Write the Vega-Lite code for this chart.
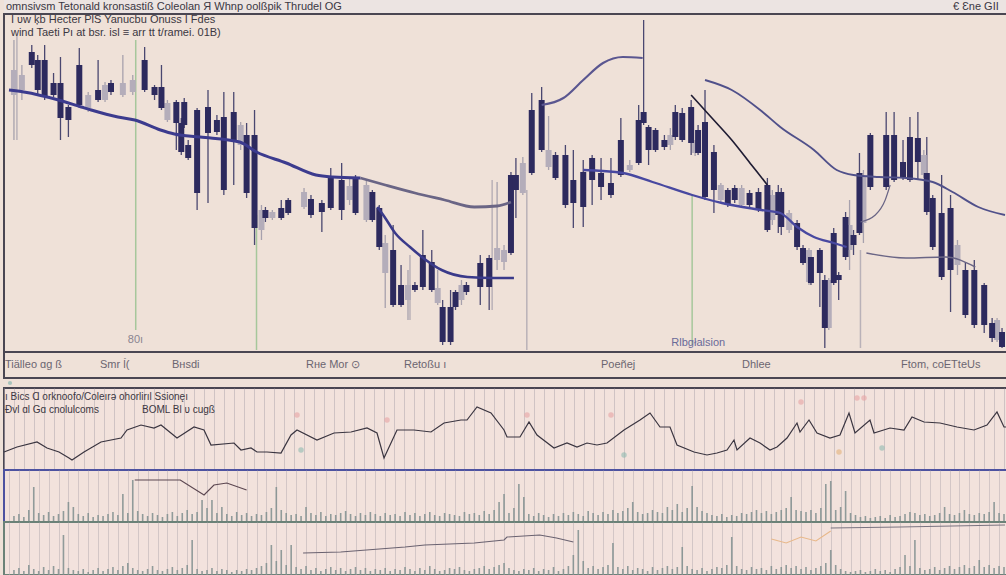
{
"$schema":"https://vega.github.io/schema/vega-lite/v6.json",
"background":"#efe1d8",
"padding":0,
"spacing":0,
"bounds":"flush",
"config":{"view":{"stroke":null},"font":"Liberation Sans","axis":{"minExtent":0,"maxExtent":0}},
"datasets":{
"header":[
{"t":0.2,"text":"omnsivsm  Tetonald kronsastiß Coleolan Я Whnp oolßpik Thrudel OG"},
{"t":94.9,"text":"€ Ɛne GII"}
],
"candles":[
{"t":0.5,"o":128.5,"c":141,"h":156,"l":106,"k":"grey"},
{"t":1.3,"o":131,"c":138.5,"h":143.5,"l":126,"k":"grey"},
{"t":8.0,"o":122,"c":128.5,"h":130,"l":120,"k":"grey"},
{"t":9.7,"o":126,"c":133.5,"h":135,"l":125,"k":"grey"},
{"t":11.5,"o":128.5,"c":134.5,"h":148.5,"l":127.5,"k":"grey"},
{"t":12.5,"o":130,"c":136,"h":138.5,"l":128.5,"k":"grey"},
{"t":16.0,"o":116,"c":124.5,"h":126,"l":115,"k":"grey"},
{"t":23.4,"o":103.5,"c":113.5,"h":115,"l":101,"k":"grey"},
{"t":25.5,"o":61,"c":71,"h":73.5,"l":56,"k":"grey"},
{"t":26.6,"o":67,"c":70,"h":71,"l":66,"k":"grey"},
{"t":29.8,"o":72.5,"c":80,"h":82,"l":71.5,"k":"grey"},
{"t":34.4,"o":76,"c":83,"h":87,"l":73.5,"k":"grey"},
{"t":36.1,"o":66,"c":83.5,"h":86,"l":65,"k":"grey"},
{"t":38.0,"o":39.5,"c":54.5,"h":58.5,"l":22,"k":"grey"},
{"t":40.3,"o":26,"c":33.5,"h":41,"l":16,"k":"grey"},
{"t":43.3,"o":24.5,"c":32,"h":41,"l":23.5,"k":"grey"},
{"t":45.7,"o":26,"c":33.5,"h":36,"l":23.5,"k":"grey"},
{"t":49.3,"o":46,"c":52,"h":85,"l":41,"k":"grey"},
{"t":50.0,"o":45,"c":51,"h":53.5,"l":41,"k":"grey"},
{"t":51.9,"o":79.5,"c":94.5,"h":97.5,"l":78.5,"k":"grey"},
{"t":54.5,"o":92.5,"c":101,"h":118,"l":91,"k":"grey"},
{"t":62.7,"o":91,"c":93.5,"h":96,"l":90,"k":"grey"},
{"t":66.8,"o":103.5,"c":108.5,"h":112,"l":101,"k":"grey"},
{"t":69.3,"o":99.5,"c":104.5,"h":106,"l":98,"k":"grey"},
{"t":71.9,"o":76,"c":83.5,"h":84.5,"l":74.5,"k":"grey"},
{"t":74.0,"o":73.5,"c":82,"h":83.5,"l":72.5,"k":"grey"},
{"t":77.1,"o":66,"c":78.5,"h":81,"l":63.5,"k":"grey"},
{"t":78.8,"o":61,"c":69.5,"h":71,"l":59.5,"k":"grey"},
{"t":80.8,"o":35,"c":51,"h":52,"l":33.5,"k":"grey"},
{"t":82.8,"o":12,"c":36,"h":37,"l":11,"k":"grey"},
{"t":84.9,"o":51,"c":63.5,"h":76,"l":41,"k":"grey"},
{"t":86.3,"o":64.5,"c":87.5,"h":91,"l":54.5,"k":"grey"},
{"t":92.4,"o":88.5,"c":98.5,"h":101,"l":87,"k":"grey"},
{"t":95.8,"o":43.5,"c":53.5,"h":56,"l":38.5,"k":"grey"},
{"t":99.8,"o":6,"c":16,"h":17,"l":5,"k":"grey"},
{"t":2.3,"o":143.5,"c":150,"h":153.5,"l":142,"k":"dark"},
{"t":2.9,"o":131,"c":146,"h":148.5,"l":128.5,"k":"dark"},
{"t":3.6,"o":127.5,"c":146,"h":153.5,"l":126,"k":"dark"},
{"t":4.5,"o":128.5,"c":134.5,"h":139.5,"l":127.5,"k":"dark"},
{"t":5.2,"o":117,"c":134.5,"h":147.5,"l":106,"k":"dark"},
{"t":6.0,"o":116,"c":122.5,"h":123.5,"l":107.5,"k":"dark"},
{"t":7.1,"o":123.5,"c":143.5,"h":152,"l":122,"k":"dark"},
{"t":9.0,"o":126,"c":131,"h":146,"l":125,"k":"dark"},
{"t":10.3,"o":130,"c":134.5,"h":136,"l":128.5,"k":"dark"},
{"t":13.7,"o":131,"c":146,"h":152.5,"l":130,"k":"dark"},
{"t":14.7,"o":128.5,"c":132.5,"h":133.5,"l":126,"k":"dark"},
{"t":15.4,"o":122,"c":132.5,"h":143.5,"l":121,"k":"dark"},
{"t":16.9,"o":114.5,"c":125,"h":126,"l":101,"k":"dark"},
{"t":17.4,"o":100,"c":114.5,"h":117,"l":98.5,"k":"dark"},
{"t":17.7,"o":113.5,"c":125,"h":127,"l":112,"k":"dark"},
{"t":18.1,"o":97,"c":103.5,"h":106,"l":96,"k":"dark"},
{"t":19.0,"o":79.5,"c":121,"h":122,"l":71,"k":"dark"},
{"t":20.1,"o":109.5,"c":122.5,"h":131,"l":74.5,"k":"dark"},
{"t":21.0,"o":110,"c":116,"h":118.5,"l":108.5,"k":"dark"},
{"t":21.7,"o":81,"c":117.5,"h":130,"l":78.5,"k":"dark"},
{"t":22.7,"o":106,"c":120,"h":130,"l":83.5,"k":"dark"},
{"t":24.0,"o":79.5,"c":108.5,"h":114.5,"l":77,"k":"dark"},
{"t":24.8,"o":62,"c":108.5,"h":121,"l":53.5,"k":"dark"},
{"t":25.9,"o":67,"c":71,"h":72.5,"l":65,"k":"dark"},
{"t":27.5,"o":67,"c":72,"h":76,"l":66,"k":"dark"},
{"t":28.2,"o":69.5,"c":76,"h":77,"l":68.5,"k":"dark"},
{"t":30.5,"o":68.5,"c":76.5,"h":78.5,"l":67,"k":"dark"},
{"t":31.6,"o":70,"c":74.5,"h":76,"l":60,"k":"dark"},
{"t":32.5,"o":72,"c":87.5,"h":92,"l":71,"k":"dark"},
{"t":33.6,"o":71,"c":86,"h":94.5,"l":66,"k":"dark"},
{"t":35.0,"o":69.5,"c":87,"h":88.5,"l":68.5,"k":"dark"},
{"t":36.7,"o":66,"c":80,"h":81,"l":65,"k":"dark"},
{"t":37.4,"o":52.5,"c":72,"h":73.5,"l":51,"k":"dark"},
{"t":38.8,"o":23.5,"c":51,"h":63.5,"l":22.5,"k":"dark"},
{"t":39.6,"o":23.5,"c":33.5,"h":43.5,"l":22.5,"k":"dark"},
{"t":41.0,"o":31,"c":33.5,"h":35,"l":30,"k":"dark"},
{"t":41.8,"o":32.5,"c":48.5,"h":61,"l":31,"k":"dark"},
{"t":42.7,"o":31,"c":45,"h":51,"l":30,"k":"dark"},
{"t":43.8,"o":5,"c":22.5,"h":26,"l":3.5,"k":"dark"},
{"t":44.6,"o":5,"c":22.5,"h":31,"l":3.5,"k":"dark"},
{"t":45.1,"o":22.5,"c":30,"h":31,"l":21,"k":"dark"},
{"t":46.2,"o":30,"c":33.5,"h":35,"l":28.5,"k":"dark"},
{"t":47.6,"o":32.5,"c":44.5,"h":48.5,"l":23.5,"k":"dark"},
{"t":48.5,"o":32.5,"c":47,"h":48.5,"l":21,"k":"dark"},
{"t":50.7,"o":49.5,"c":88.5,"h":90,"l":48.5,"k":"dark"},
{"t":51.2,"o":81,"c":88.5,"h":97,"l":67,"k":"dark"},
{"t":52.8,"o":89.5,"c":121,"h":129.5,"l":88.5,"k":"dark"},
{"t":53.8,"o":101,"c":126,"h":132.5,"l":100,"k":"dark"},
{"t":55.2,"o":87,"c":98.5,"h":100,"l":86,"k":"dark"},
{"t":56.2,"o":73.5,"c":98.5,"h":103.5,"l":72,"k":"dark"},
{"t":57.0,"o":74.5,"c":86,"h":101,"l":62,"k":"dark"},
{"t":58.0,"o":72.5,"c":90,"h":96,"l":62.5,"k":"dark"},
{"t":58.9,"o":86,"c":97,"h":98.5,"l":73.5,"k":"dark"},
{"t":59.8,"o":82.5,"c":89.5,"h":97,"l":76,"k":"dark"},
{"t":60.8,"o":78.5,"c":84.5,"h":97,"l":77,"k":"dark"},
{"t":61.8,"o":88.5,"c":106,"h":117,"l":87.5,"k":"dark"},
{"t":63.6,"o":94.5,"c":116,"h":123.5,"l":93.5,"k":"dark"},
{"t":64.1,"o":114.5,"c":120,"h":166,"l":113.5,"k":"dark"},
{"t":64.6,"o":101,"c":112.5,"h":113.5,"l":93.5,"k":"dark"},
{"t":65.3,"o":101,"c":111,"h":112,"l":100,"k":"dark"},
{"t":66.2,"o":102.5,"c":106,"h":108.5,"l":101,"k":"dark"},
{"t":67.3,"o":107.5,"c":120,"h":123.5,"l":106,"k":"dark"},
{"t":68.0,"o":106,"c":119.5,"h":122,"l":105,"k":"dark"},
{"t":68.9,"o":104.5,"c":122.5,"h":126,"l":98.5,"k":"dark"},
{"t":69.6,"o":99.5,"c":111,"h":113.5,"l":98.5,"k":"dark"},
{"t":70.3,"o":77.5,"c":115,"h":131,"l":76,"k":"dark"},
{"t":71.2,"o":81,"c":100,"h":103.5,"l":69.5,"k":"dark"},
{"t":72.6,"o":73.5,"c":81,"h":82,"l":72.5,"k":"dark"},
{"t":73.3,"o":76,"c":82,"h":83.5,"l":74.5,"k":"dark"},
{"t":74.8,"o":73.5,"c":79.5,"h":81,"l":72.5,"k":"dark"},
{"t":75.7,"o":71,"c":80,"h":82,"l":70,"k":"dark"},
{"t":76.6,"o":61,"c":83.5,"h":87,"l":60,"k":"dark"},
{"t":77.7,"o":68.5,"c":80,"h":83.5,"l":59.5,"k":"dark"},
{"t":78.0,"o":62.5,"c":80,"h":82,"l":58.5,"k":"dark"},
{"t":79.6,"o":52.5,"c":64.5,"h":66,"l":51,"k":"dark"},
{"t":80.2,"o":44.5,"c":52,"h":53.5,"l":43.5,"k":"dark"},
{"t":81.0,"o":34.5,"c":47.5,"h":51,"l":33.5,"k":"dark"},
{"t":81.9,"o":39.5,"c":51,"h":52,"l":22.5,"k":"dark"},
{"t":82.4,"o":12,"c":36,"h":38.5,"l":2,"k":"dark"},
{"t":83.3,"o":34.5,"c":59.5,"h":62,"l":33.5,"k":"dark"},
{"t":83.8,"o":36,"c":38.5,"h":40,"l":26,"k":"dark"},
{"t":84.5,"o":47.5,"c":67.5,"h":70,"l":46,"k":"dark"},
{"t":85.3,"o":53.5,"c":58.5,"h":61,"l":48.5,"k":"dark"},
{"t":85.9,"o":59.5,"c":89.5,"h":99.5,"l":58.5,"k":"dark"},
{"t":87.0,"o":82.5,"c":108.5,"h":109.5,"l":81,"k":"dark"},
{"t":88.6,"o":82.5,"c":108.5,"h":120,"l":81,"k":"dark"},
{"t":89.4,"o":86,"c":108.5,"h":120,"l":85,"k":"dark"},
{"t":90.3,"o":87.5,"c":95,"h":106,"l":86,"k":"dark"},
{"t":91.0,"o":86,"c":107.5,"h":117.5,"l":85,"k":"dark"},
{"t":91.8,"o":95,"c":107,"h":120,"l":86,"k":"dark"},
{"t":92.7,"o":70,"c":89.5,"h":107.5,"l":68.5,"k":"dark"},
{"t":93.3,"o":52.5,"c":77,"h":78.5,"l":51,"k":"dark"},
{"t":94.2,"o":37.5,"c":69.5,"h":88.5,"l":36,"k":"dark"},
{"t":95.1,"o":41,"c":72,"h":78.5,"l":20,"k":"dark"},
{"t":96.6,"o":18.5,"c":41,"h":45,"l":17,"k":"dark"},
{"t":97.5,"o":13.5,"c":41,"h":46,"l":12,"k":"dark"},
{"t":98.5,"o":13.5,"c":33.5,"h":34.5,"l":9.5,"k":"dark"},
{"t":99.3,"o":7,"c":14.5,"h":17,"l":5,"k":"dark"},
{"t":100.3,"o":2.5,"c":10,"h":12,"l":2,"k":"dark"}
],
"vlines":[
{"t":12.8,"lo":11,"hi":156,"vk":"green"},
{"t":25.0,"lo":1,"hi":68.5,"vk":"green"},
{"t":40.5,"lo":16,"hi":48.5,"vk":"gray"},
{"t":48.8,"lo":21,"hi":86,"vk":"gray"},
{"t":52.3,"lo":1,"hi":81,"vk":"gray"},
{"t":69.0,"lo":3.5,"hi":78.5,"vk":"green"},
{"t":86.0,"lo":2,"hi":51,"vk":"gray"},
{"t":0.8,"lo":106,"hi":158,"vk":"gray"}
],
"mlines":[
{"s":"ma1","t":0,"p":131},{"s":"ma1","t":1.5,"p":130},{"s":"ma1","t":5,"p":126},{"s":"ma1","t":7.3,"p":122.5},{"s":"ma1","t":8.3,"p":121},{"s":"ma1","t":11,"p":117.5},{"s":"ma1","t":12.7,"p":116},{"s":"ma1","t":15.3,"p":111},{"s":"ma1","t":16.7,"p":109},{"s":"ma1","t":19.3,"p":107.5},{"s":"ma1","t":23.3,"p":105},{"s":"ma1","t":25,"p":100},{"s":"ma1","t":28,"p":94.5},{"s":"ma1","t":31,"p":88.5},{"s":"ma1","t":32.7,"p":87.5},{"s":"ma1","t":35.5,"p":87},
{"s":"ma1b","t":35.5,"p":87},{"s":"ma1b","t":38,"p":83.5},{"s":"ma1b","t":41,"p":79.5},{"s":"ma1b","t":44,"p":76},{"s":"ma1b","t":47,"p":72.5},{"s":"ma1b","t":49.3,"p":73},{"s":"ma1b","t":50.7,"p":75},
{"s":"ma2","t":37.2,"p":72.5},{"s":"ma2","t":38,"p":67},{"s":"ma2","t":39,"p":59.5},{"s":"ma2","t":40.5,"p":52.5},{"s":"ma2","t":41.7,"p":47.5},{"s":"ma2","t":43.7,"p":41},{"s":"ma2","t":46.3,"p":37.5},{"s":"ma2","t":49,"p":37},{"s":"ma2","t":51,"p":37},
{"s":"ma3","t":58,"p":91},{"s":"ma3","t":62,"p":89.5},{"s":"ma3","t":65,"p":85},{"s":"ma3","t":69,"p":78.5},{"s":"ma3","t":72,"p":74.5},{"s":"ma3","t":76,"p":71},{"s":"ma3","t":77.9,"p":69.5},{"s":"ma3","t":79.6,"p":62.5},{"s":"ma3","t":81.3,"p":57.5},{"s":"ma3","t":83.3,"p":54.5},{"s":"ma3","t":84.6,"p":52.5},
{"s":"arc","t":53.8,"p":123.5},{"s":"arc","t":56,"p":127},{"s":"arc","t":58,"p":136},{"s":"arc","t":60,"p":144.5},{"s":"arc","t":62,"p":147.5},{"s":"arc","t":64,"p":147},
{"s":"down","t":70.3,"p":136},{"s":"down","t":73,"p":131},{"s":"down","t":76,"p":120.5},{"s":"down","t":77.9,"p":112.5},{"s":"down","t":81.3,"p":101},{"s":"down","t":83.6,"p":91},{"s":"down","t":85.3,"p":88.5},{"s":"down","t":87.9,"p":87.5},{"s":"down","t":90.6,"p":87},{"s":"down","t":93.3,"p":85},{"s":"down","t":95.3,"p":80},{"s":"down","t":97.9,"p":72.5},{"s":"down","t":100.6,"p":68.5},
{"s":"black","t":68.9,"p":128.5},{"s":"black","t":71,"p":117},{"s":"black","t":73,"p":106},{"s":"black","t":75,"p":93.5},{"s":"black","t":76.6,"p":83.5},
{"s":"low","t":86.6,"p":49.5},{"s":"low","t":90.6,"p":47},{"s":"low","t":94.6,"p":47.5},{"s":"low","t":97.6,"p":42.5},
{"s":"rise","t":86,"p":65},{"s":"rise","t":87.5,"p":68.5},{"s":"rise","t":88.5,"p":76},{"s":"rise","t":89,"p":83.5}
],
"mtext":[
{"t":0.2,"p":166,"text":"I  ʋw  ķb  Hecter PlS  Yanucbu Onuss I Fdes","c":"dark"},
{"t":0.2,"p":159.5,"text":"wind Taeti Pı  at bsr. isl ≡  arr tt  t/ramei. 01B)","c":"dark"},
{"t":12.0,"p":6,"text":"80ı","c":"muted"},
{"t":66.9,"p":4.5,"text":"Rlbgłalsion","c":"blue"}
],
"labels":[
{"t":0.1,"text":"Tiälleo ɑg ß"},{"t":9.6,"text":"Smr ĺ("},{"t":16.8,"text":"Bнsdi"},{"t":30.2,"text":"Rнe Mor ⊙"},{"t":40.0,"text":"Retoßu ı"},{"t":59.7,"text":"Poeñej"},{"t":73.8,"text":"Dhlee"},{"t":89.7,"text":"Ftom, coETteUs"}
],
"osc":[
{"t":0,"v":18},{"t":1.3,"v":23},{"t":3.3,"v":28},{"t":4.3,"v":22},{"t":5.5,"v":18},{"t":6.5,"v":12},{"t":6.8,"v":10},{"t":8,"v":18},{"t":9.7,"v":28},{"t":11.7,"v":32},{"t":12.3,"v":40},{"t":13.7,"v":45},{"t":15,"v":42},{"t":15.7,"v":45},{"t":17.3,"v":32},{"t":19,"v":43},{"t":20,"v":40},{"t":20.7,"v":25},{"t":23,"v":27},{"t":23.7,"v":20},{"t":24.7,"v":22},{"t":25.3,"v":18},{"t":26.3,"v":18},{"t":27.7,"v":17},{"t":28.7,"v":35},{"t":29.3,"v":40},{"t":31.3,"v":30},{"t":33,"v":37},{"t":34.7,"v":38},{"t":36.3,"v":42},{"t":37.3,"v":37},{"t":38,"v":12},{"t":39.3,"v":40},{"t":41,"v":40},{"t":42.7,"v":38},{"t":44,"v":47},{"t":45.7,"v":50},{"t":46.3,"v":50},{"t":47.3,"v":63},{"t":48.7,"v":57},{"t":50,"v":40},{"t":50.3,"v":33},{"t":51.6,"v":33},{"t":52.5,"v":48},{"t":53.3,"v":35},{"t":55,"v":22},{"t":56.3,"v":27},{"t":57.3,"v":23},{"t":58.3,"v":27},{"t":59.3,"v":25},{"t":60.3,"v":27},{"t":62,"v":40},{"t":63.6,"v":50},{"t":64.6,"v":57},{"t":65.6,"v":43},{"t":66.6,"v":43},{"t":67.3,"v":25},{"t":69,"v":18},{"t":70.3,"v":15},{"t":71.3,"v":17},{"t":72.3,"v":20},{"t":73,"v":30},{"t":73.3,"v":20},{"t":74.6,"v":32},{"t":75.6,"v":27},{"t":76.6,"v":20},{"t":77.3,"v":23},{"t":78.3,"v":32},{"t":79.3,"v":47},{"t":79.6,"v":38},{"t":80.5,"v":50},{"t":81.3,"v":37},{"t":82.6,"v":32},{"t":83.6,"v":35},{"t":84.5,"v":57},{"t":85.1,"v":37},{"t":86.6,"v":50},{"t":87,"v":37},{"t":88.6,"v":42},{"t":90,"v":40},{"t":90.8,"v":53},{"t":92,"v":48},{"t":93.6,"v":47},{"t":95.3,"v":43},{"t":97,"v":40},{"t":98.3,"v":45},{"t":99.3,"v":58},{"t":100,"v":43},{"t":100.6,"v":43}
],
"dots":[
{"t":29.3,"v":55,"dk":"pink"},{"t":29.7,"v":20,"dk":"teal"},{"t":38.3,"v":50,"dk":"pink"},{"t":52.3,"v":55,"dk":"pink"},{"t":60.7,"v":55,"dk":"pink"},{"t":79.7,"v":68,"dk":"pink"},{"t":85.3,"v":72,"dk":"pink"},{"t":86.0,"v":72,"dk":"pink"},{"t":83.5,"v":18,"dk":"orange"},{"t":87.8,"v":22,"dk":"teal"},{"t":62.0,"v":15,"dk":"teal"}
],
"dtext":[
{"t":0.1,"v":73,"text":"ı  Bics Ɑ orknoofo/Coleırə  ohorlirıl  Ssionęı"},
{"t":0.1,"v":60,"text":"Ɖvl ɑl Gɑ cnolulcoms"},
{"t":13.8,"v":60,"text":"BOML Bl ʋ cugß"}
],
"eline":[
{"t":12.7,"v":42},{"t":13.3,"v":42},{"t":17.3,"v":42},{"t":19.7,"v":27},{"t":20.7,"v":37},{"t":22,"v":39},{"t":24,"v":32}
],
"flines":[
{"s":"a","t":29.7,"v":22},{"s":"a","t":33.5,"v":23},{"s":"a","t":40,"v":28},{"s":"a","t":42,"v":30},{"s":"a","t":47,"v":32},{"s":"a","t":50,"v":35},{"s":"a","t":50.3,"v":38},{"s":"a","t":53.6,"v":40},{"s":"a","t":55.3,"v":37},{"s":"a","t":57,"v":33},
{"s":"b","t":83,"v":47},{"s":"b","t":90,"v":48},{"s":"b","t":100.6,"v":50},
{"s":"c","t":77,"v":36},{"s":"c","t":78.5,"v":32},{"s":"c","t":80,"v":38},{"s":"c","t":81.5,"v":34},{"s":"c","t":83,"v":44}
],
"vol":[
{"t":0.5,"e":6,"f":5},{"t":1,"e":8,"f":7},{"t":1.5,"e":5,"f":4},{"t":2,"e":12,"f":10},{"t":2.5,"e":35,"f":6},{"t":3,"e":9,"f":4},{"t":3.5,"e":7,"f":8},{"t":4,"e":10,"f":5},{"t":4.5,"e":6,"f":9},{"t":5,"e":8,"f":6},
{"t":5.5,"e":11,"f":40},{"t":6,"e":20,"f":7},{"t":6.5,"e":15,"f":5},{"t":7,"e":8,"f":4},{"t":7.5,"e":6,"f":6},{"t":8,"e":9,"f":3},{"t":8.5,"e":5,"f":5},{"t":9,"e":7,"f":7},{"t":9.5,"e":6,"f":4},{"t":10,"e":8,"f":6},
{"t":10.5,"e":10,"f":8},{"t":11,"e":7,"f":5},{"t":11.5,"e":28,"f":9},{"t":12,"e":9,"f":12},{"t":12.5,"e":42,"f":7},{"t":13,"e":11,"f":5},{"t":13.5,"e":8,"f":4},{"t":14,"e":6,"f":6},{"t":14.5,"e":9,"f":9},{"t":15,"e":7,"f":5},
{"t":15.5,"e":5,"f":4},{"t":16,"e":8,"f":6},{"t":16.5,"e":10,"f":8},{"t":17,"e":6,"f":5},{"t":17.5,"e":9,"f":7},{"t":18,"e":12,"f":10},{"t":18.5,"e":8,"f":35},{"t":19,"e":10,"f":6},{"t":19.5,"e":22,"f":4},{"t":20,"e":14,"f":5},
{"t":20.5,"e":22,"f":7},{"t":21,"e":9,"f":4},{"t":21.5,"e":15,"f":6},{"t":22,"e":8,"f":5},{"t":22.5,"e":6,"f":3},{"t":23,"e":10,"f":5},{"t":23.5,"e":7,"f":4},{"t":24,"e":9,"f":6},{"t":24.5,"e":6,"f":5},{"t":25,"e":8,"f":7},
{"t":25.5,"e":7,"f":9},{"t":26,"e":10,"f":12},{"t":26.5,"e":14,"f":30},{"t":27,"e":35,"f":14},{"t":27.5,"e":12,"f":25},{"t":28,"e":9,"f":10},{"t":28.5,"e":7,"f":30},{"t":29,"e":8,"f":8},{"t":29.5,"e":6,"f":6},{"t":30,"e":15,"f":9},
{"t":30.5,"e":9,"f":5},{"t":31,"e":7,"f":7},{"t":31.5,"e":10,"f":4},{"t":32,"e":6,"f":6},{"t":32.5,"e":8,"f":8},{"t":33,"e":7,"f":5},{"t":33.5,"e":9,"f":7},{"t":34,"e":11,"f":4},{"t":34.5,"e":8,"f":6},{"t":35,"e":6,"f":8},
{"t":35.5,"e":9,"f":5},{"t":36,"e":7,"f":7},{"t":36.5,"e":10,"f":4},{"t":37,"e":8,"f":6},{"t":37.5,"e":6,"f":5},{"t":38,"e":9,"f":7},{"t":38.5,"e":7,"f":4},{"t":39,"e":8,"f":6},{"t":39.5,"e":6,"f":5},{"t":40,"e":10,"f":8},
{"t":40.5,"e":7,"f":6},{"t":41,"e":9,"f":4},{"t":41.5,"e":6,"f":7},{"t":42,"e":8,"f":5},{"t":42.5,"e":10,"f":9},{"t":43,"e":7,"f":6},{"t":43.5,"e":6,"f":4},{"t":44,"e":9,"f":5},{"t":44.5,"e":8,"f":7},{"t":45,"e":7,"f":6},
{"t":45.5,"e":6,"f":8},{"t":46,"e":10,"f":5},{"t":46.5,"e":8,"f":4},{"t":47,"e":9,"f":6},{"t":47.5,"e":7,"f":7},{"t":48,"e":11,"f":9},{"t":48.5,"e":8,"f":6},{"t":49,"e":12,"f":8},{"t":49.5,"e":20,"f":10},{"t":50,"e":28,"f":12},
{"t":50.5,"e":9,"f":7},{"t":51,"e":14,"f":5},{"t":51.5,"e":38,"f":4},{"t":52,"e":25,"f":6},{"t":52.5,"e":8,"f":5},{"t":53,"e":6,"f":7},{"t":53.5,"e":9,"f":4},{"t":54,"e":7,"f":6},{"t":54.5,"e":5,"f":5},{"t":55,"e":8,"f":8},
{"t":55.5,"e":6,"f":4},{"t":56,"e":9,"f":6},{"t":56.5,"e":7,"f":9},{"t":57,"e":10,"f":20},{"t":57.5,"e":8,"f":45},{"t":58,"e":6,"f":14},{"t":58.5,"e":11,"f":7},{"t":59,"e":9,"f":9},{"t":59.5,"e":7,"f":6},{"t":60,"e":10,"f":8},
{"t":60.5,"e":8,"f":10},{"t":61,"e":12,"f":32},{"t":61.5,"e":9,"f":8},{"t":62,"e":11,"f":6},{"t":62.5,"e":14,"f":9},{"t":63,"e":20,"f":5},{"t":63.5,"e":10,"f":7},{"t":64,"e":8,"f":6},{"t":64.5,"e":9,"f":4},{"t":65,"e":12,"f":8},
{"t":65.5,"e":10,"f":5},{"t":66,"e":9,"f":7},{"t":66.5,"e":15,"f":9},{"t":67,"e":12,"f":6},{"t":67.5,"e":18,"f":8},{"t":68,"e":10,"f":28},{"t":68.5,"e":14,"f":9},{"t":69,"e":36,"f":6},{"t":69.5,"e":15,"f":5},{"t":70,"e":11,"f":7},
{"t":70.5,"e":9,"f":4},{"t":71,"e":7,"f":6},{"t":71.5,"e":6,"f":8},{"t":72,"e":8,"f":7},{"t":72.5,"e":5,"f":10},{"t":73,"e":7,"f":38},{"t":73.5,"e":6,"f":9},{"t":74,"e":9,"f":6},{"t":74.5,"e":8,"f":5},{"t":75,"e":10,"f":8},
{"t":75.5,"e":12,"f":6},{"t":76,"e":9,"f":7},{"t":76.5,"e":11,"f":5},{"t":77,"e":8,"f":9},{"t":77.5,"e":10,"f":6},{"t":78,"e":12,"f":8},{"t":78.5,"e":14,"f":10},{"t":79,"e":25,"f":7},{"t":79.5,"e":12,"f":9},{"t":80,"e":11,"f":6},
{"t":80.5,"e":10,"f":8},{"t":81,"e":12,"f":5},{"t":81.5,"e":9,"f":7},{"t":82,"e":14,"f":9},{"t":82.5,"e":38,"f":12},{"t":83,"e":41,"f":25},{"t":83.5,"e":12,"f":10},{"t":84,"e":15,"f":6},{"t":84.5,"e":31,"f":4},{"t":85,"e":9,"f":3},
{"t":85.5,"e":7,"f":4},{"t":86,"e":5,"f":5},{"t":86.5,"e":6,"f":3},{"t":87,"e":4,"f":4},{"t":87.5,"e":5,"f":6},{"t":88,"e":6,"f":4},{"t":88.5,"e":4,"f":5},{"t":89,"e":7,"f":3},{"t":89.5,"e":5,"f":6},{"t":90,"e":6,"f":8},
{"t":90.5,"e":8,"f":20},{"t":91,"e":10,"f":9},{"t":91.5,"e":9,"f":35},{"t":92,"e":7,"f":7},{"t":92.5,"e":8,"f":5},{"t":93,"e":6,"f":6},{"t":93.5,"e":7,"f":8},{"t":94,"e":9,"f":5},{"t":94.5,"e":15,"f":7},{"t":95,"e":8,"f":9},
{"t":95.5,"e":7,"f":6},{"t":96,"e":9,"f":8},{"t":96.5,"e":12,"f":10},{"t":97,"e":8,"f":7},{"t":97.5,"e":7,"f":9},{"t":98,"e":9,"f":15},{"t":98.5,"e":8,"f":8},{"t":99,"e":10,"f":10},{"t":99.5,"e":20,"f":7},{"t":100,"e":9,"f":9},
{"t":100.5,"e":8,"f":8}
]
},
"vconcat":[
{
"width":1006,"height":14,
"view":{"fill":"#ece4e2"},
"data":{"name":"header"},
"mark":{"type":"text","align":"left","baseline":"middle","fontSize":11,"font":"Liberation Sans","color":"#3b3742"},
"encoding":{"x":{"field":"t","type":"quantitative","scale":{"domain":[0,100.6],"nice":false,"zero":false},"axis":null},"text":{"field":"text"}}
},
{
"width":1006,"height":338,
"view":{"stroke":"#4a4652","strokeWidth":2},
"resolve":{"scale":{"color":"independent","strokeWidth":"independent"}},
"layer":[
{"data":{"name":"vlines"},"mark":{"type":"rule","strokeWidth":1.5},
"encoding":{"x":{"field":"t","type":"quantitative","scale":{"domain":[0,100.6],"nice":false,"zero":false},"axis":null},
"y":{"field":"lo","type":"quantitative","scale":{"domain":[0,169],"nice":false,"zero":false},"axis":null},"y2":{"field":"hi"},
"color":{"field":"vk","type":"nominal","scale":{"domain":["green","gray"],"range":["#a6c79b","#b9b1b8"]},"legend":null}}},
{"data":{"name":"candles"},"mark":{"type":"rule","strokeWidth":1.3},
"encoding":{"x":{"field":"t","type":"quantitative","scale":{"domain":[0,100.6],"nice":false,"zero":false},"axis":null},
"y":{"field":"l","type":"quantitative","scale":{"domain":[0,169],"nice":false,"zero":false},"axis":null},"y2":{"field":"h"},
"color":{"field":"k","type":"nominal","scale":{"domain":["dark","grey"],"range":["#4a4770","#a7a1ad"]},"legend":null}}},
{"data":{"name":"candles"},"mark":{"type":"bar","size":6,"orient":"vertical"},
"encoding":{"x":{"field":"t","type":"quantitative","scale":{"domain":[0,100.6],"nice":false,"zero":false},"axis":null},
"y":{"field":"o","type":"quantitative","scale":{"domain":[0,169],"nice":false,"zero":false},"axis":null},"y2":{"field":"c"},
"color":{"field":"k","type":"nominal","scale":{"domain":["dark","grey"],"range":["#2d2a5e","#b4adba"]},"legend":null}}},
{"data":{"name":"mlines"},"mark":{"type":"line","interpolate":"monotone"},
"encoding":{"x":{"field":"t","type":"quantitative","scale":{"domain":[0,100.6],"nice":false,"zero":false},"axis":null},
"y":{"field":"p","type":"quantitative","scale":{"domain":[0,169],"nice":false,"zero":false},"axis":null},
"color":{"field":"s","type":"nominal","scale":{"domain":["ma1","ma1b","ma2","ma3","arc","down","black","low","rise"],"range":["#3c3b8e","#6a6585","#3a3a8a","#4848a0","#5a5690","#50508a","#1f1c33","#6a6585","#6a6585"]},"legend":null},
"strokeWidth":{"field":"s","type":"ordinal","scale":{"domain":["ma1","ma1b","ma2","ma3","arc","down","black","low","rise"],"range":[3,1.2,2,1.8,1.3,1.3,2,1.2,1.2]},"legend":null}}},
{"data":{"name":"mtext"},"mark":{"type":"text","align":"left","baseline":"middle","fontSize":11,"font":"Liberation Sans"},
"encoding":{"x":{"field":"t","type":"quantitative","scale":{"domain":[0,100.6],"nice":false,"zero":false},"axis":null},
"y":{"field":"p","type":"quantitative","scale":{"domain":[0,169],"nice":false,"zero":false},"axis":null},
"text":{"field":"text"},
"color":{"field":"c","type":"nominal","scale":{"domain":["dark","muted","blue"],"range":["#3b3742","#8a8490","#6a6a98"]},"legend":null}}}
]
},
{
"width":1006,"height":26,
"view":{"stroke":"#4a4652","strokeWidth":2},
"data":{"name":"labels"},
"mark":{"type":"text","align":"left","baseline":"middle","fontSize":11,"font":"Liberation Sans","color":"#6b6570"},
"encoding":{"x":{"field":"t","type":"quantitative","scale":{"domain":[0,100.6],"nice":false,"zero":false},"axis":null},"text":{"field":"text"}}
},
{
"width":1006,"height":10,
"data":{"values":[{"t":0.6}]},
"mark":{"type":"point","filled":true,"size":18,"color":"#8ab8b0"},
"encoding":{"x":{"field":"t","type":"quantitative","scale":{"domain":[0,100.6],"nice":false,"zero":false},"axis":null}}
},
{
"width":1006,"height":82,
"view":{"stroke":"#4a4652","strokeWidth":2,"fill":"#f2e2dc"},
"resolve":{"scale":{"color":"independent"}},
"layer":[
{"data":{"name":"osc"},"mark":{"type":"line","color":"#3a3540","strokeWidth":1.2},
"encoding":{"x":{"field":"t","type":"quantitative","scale":{"domain":[0,100.6],"nice":false,"zero":false},"axis":{"grid":true,"labels":false,"ticks":false,"domain":false,"title":null,"tickCount":100,"gridColor":"#b3aab0","gridOpacity":0.55}},
"y":{"field":"v","type":"quantitative","scale":{"domain":[0,82],"nice":false,"zero":false},"axis":null}}},
{"data":{"name":"dots"},"mark":{"type":"circle","size":30,"opacity":0.6},
"encoding":{"x":{"field":"t","type":"quantitative","scale":{"domain":[0,100.6],"nice":false,"zero":false},"axis":{"grid":true,"labels":false,"ticks":false,"domain":false,"title":null,"tickCount":100,"gridColor":"#b3aab0","gridOpacity":0.55}},
"y":{"field":"v","type":"quantitative","scale":{"domain":[0,82],"nice":false,"zero":false},"axis":null},
"color":{"field":"dk","type":"nominal","scale":{"domain":["pink","teal","orange"],"range":["#e6a3a3","#8fbab0","#e3b27a"]},"legend":null}}},
{"data":{"name":"dtext"},"mark":{"type":"text","align":"left","baseline":"middle","fontSize":10,"font":"Liberation Sans","color":"#3b3742"},
"encoding":{"x":{"field":"t","type":"quantitative","scale":{"domain":[0,100.6],"nice":false,"zero":false},"axis":{"grid":true,"labels":false,"ticks":false,"domain":false,"title":null,"tickCount":100,"gridColor":"#b3aab0","gridOpacity":0.55}},
"y":{"field":"v","type":"quantitative","scale":{"domain":[0,82],"nice":false,"zero":false},"axis":null},
"text":{"field":"text"}}}
]
},
{
"width":1006,"height":52,
"view":{"stroke":"#4d52a0","strokeWidth":2,"fill":"#f2e2dc"},
"layer":[
{"data":{"name":"vol"},"mark":{"type":"bar","size":1.6,"orient":"vertical","color":"#7f8e8e","opacity":0.85},
"encoding":{"x":{"field":"t","type":"quantitative","scale":{"domain":[0,100.6],"nice":false,"zero":false},"axis":{"grid":true,"labels":false,"ticks":false,"domain":false,"title":null,"tickCount":100,"gridColor":"#b3aab0","gridOpacity":0.5}},
"y":{"field":"e","type":"quantitative","scale":{"domain":[0,52],"nice":false},"axis":null}}},
{"data":{"name":"eline"},"mark":{"type":"line","color":"#5b4650","strokeWidth":1.2},
"encoding":{"x":{"field":"t","type":"quantitative","scale":{"domain":[0,100.6],"nice":false,"zero":false},"axis":{"grid":true,"labels":false,"ticks":false,"domain":false,"title":null,"tickCount":100,"gridColor":"#b3aab0","gridOpacity":0.5}},
"y":{"field":"v","type":"quantitative","scale":{"domain":[0,52],"nice":false},"axis":null}}}
]
},
{
"width":1006,"height":53,
"view":{"stroke":"#6b8278","strokeWidth":2,"fill":"#f3e2dd"},
"layer":[
{"data":{"name":"vol"},"mark":{"type":"bar","size":1.6,"orient":"vertical","color":"#7f8e8e","opacity":0.85},
"encoding":{"x":{"field":"t","type":"quantitative","scale":{"domain":[0,100.6],"nice":false,"zero":false},"axis":{"grid":true,"labels":false,"ticks":false,"domain":false,"title":null,"tickCount":100,"gridColor":"#b3aab0","gridOpacity":0.5}},
"y":{"field":"f","type":"quantitative","scale":{"domain":[0,53],"nice":false},"axis":null}}},
{"data":{"name":"flines"},"mark":{"type":"line","strokeWidth":1.1},
"encoding":{"x":{"field":"t","type":"quantitative","scale":{"domain":[0,100.6],"nice":false,"zero":false},"axis":{"grid":true,"labels":false,"ticks":false,"domain":false,"title":null,"tickCount":100,"gridColor":"#b3aab0","gridOpacity":0.5}},
"y":{"field":"v","type":"quantitative","scale":{"domain":[0,53],"nice":false},"axis":null},
"color":{"field":"s","type":"nominal","scale":{"domain":["a","b","c"],"range":["#6a6270","#7a7480","#e8b88a"]},"legend":null}}}
]
}
]
}
